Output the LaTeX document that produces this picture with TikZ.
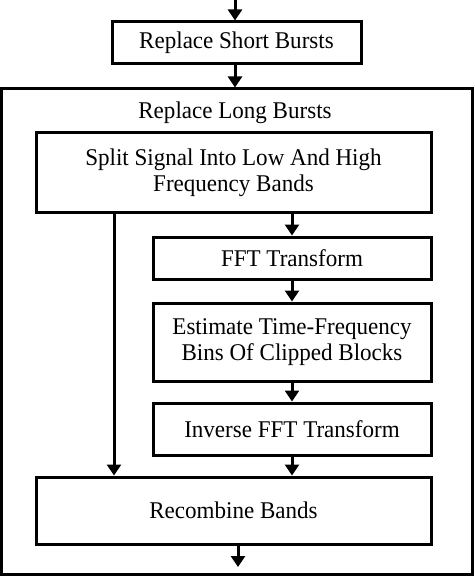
\documentclass[tikz,border=0pt]{standalone}
\usepackage{fontspec}
\setmainfont{Liberation Serif}[FakeStretch=0.96]
\usetikzlibrary{arrows.meta}
\tikzset{
  blk/.style={draw,rectangle,line width=3pt,align=center,inner sep=0pt},
}
\begin{document}
\begin{tikzpicture}[x=1pt,y=-1pt,line width=3pt,font=\fontsize{24}{26}\selectfont,line join=miter,>={Triangle[length=11pt,width=14pt]}]
\useasboundingbox (0,0) rectangle (474,577);
% outer block and its title
\node[blk,minimum width=471pt,minimum height=485pt] (outer) at (237,331.5) {};
\node (title) at (235,113) {Replace Long Bursts};
% blocks
\node[blk,minimum width=249pt,minimum height=42pt] (short) at (236.5,43) {Replace Short Bursts};
\node[blk,minimum width=395pt,minimum height=79pt] (split) at (233.5,172.5) {Split Signal Into Low And High\\Frequency Bands};
\node[blk,minimum width=278pt,minimum height=42pt] (fft) at (292,258) {FFT Transform};
\node[blk,minimum width=278pt,minimum height=78pt] (est) at (292,342) {Estimate Time-Frequency\\Bins Of Clipped Blocks};
\node[blk,minimum width=278pt,minimum height=52pt] (inv) at (292,429) {Inverse FFT Transform};
\node[blk,minimum width=395pt,minimum height=67pt] (rec) at (233.5,510.5) {Recombine Bands};
% connectors
\coordinate (in) at (235,0);
\coordinate (low) at (114,0);
\coordinate (out) at (238,567);
\draw[->] (in) -- (short.north -| in);
\draw[->] (short.south -| in) -- (outer.north -| in);
\draw[->] (split.south -| fft.north) -- (fft.north);
\draw[->] (fft.south) -- (est.north);
\draw[->] (est.south) -- (inv.north);
\draw[->] (inv.south) -- (rec.north -| inv.south);
\draw[->] (split.south -| low) -- (rec.north -| low);
\draw[->] (rec.south -| out) -- (out);
\end{tikzpicture}
\end{document}
